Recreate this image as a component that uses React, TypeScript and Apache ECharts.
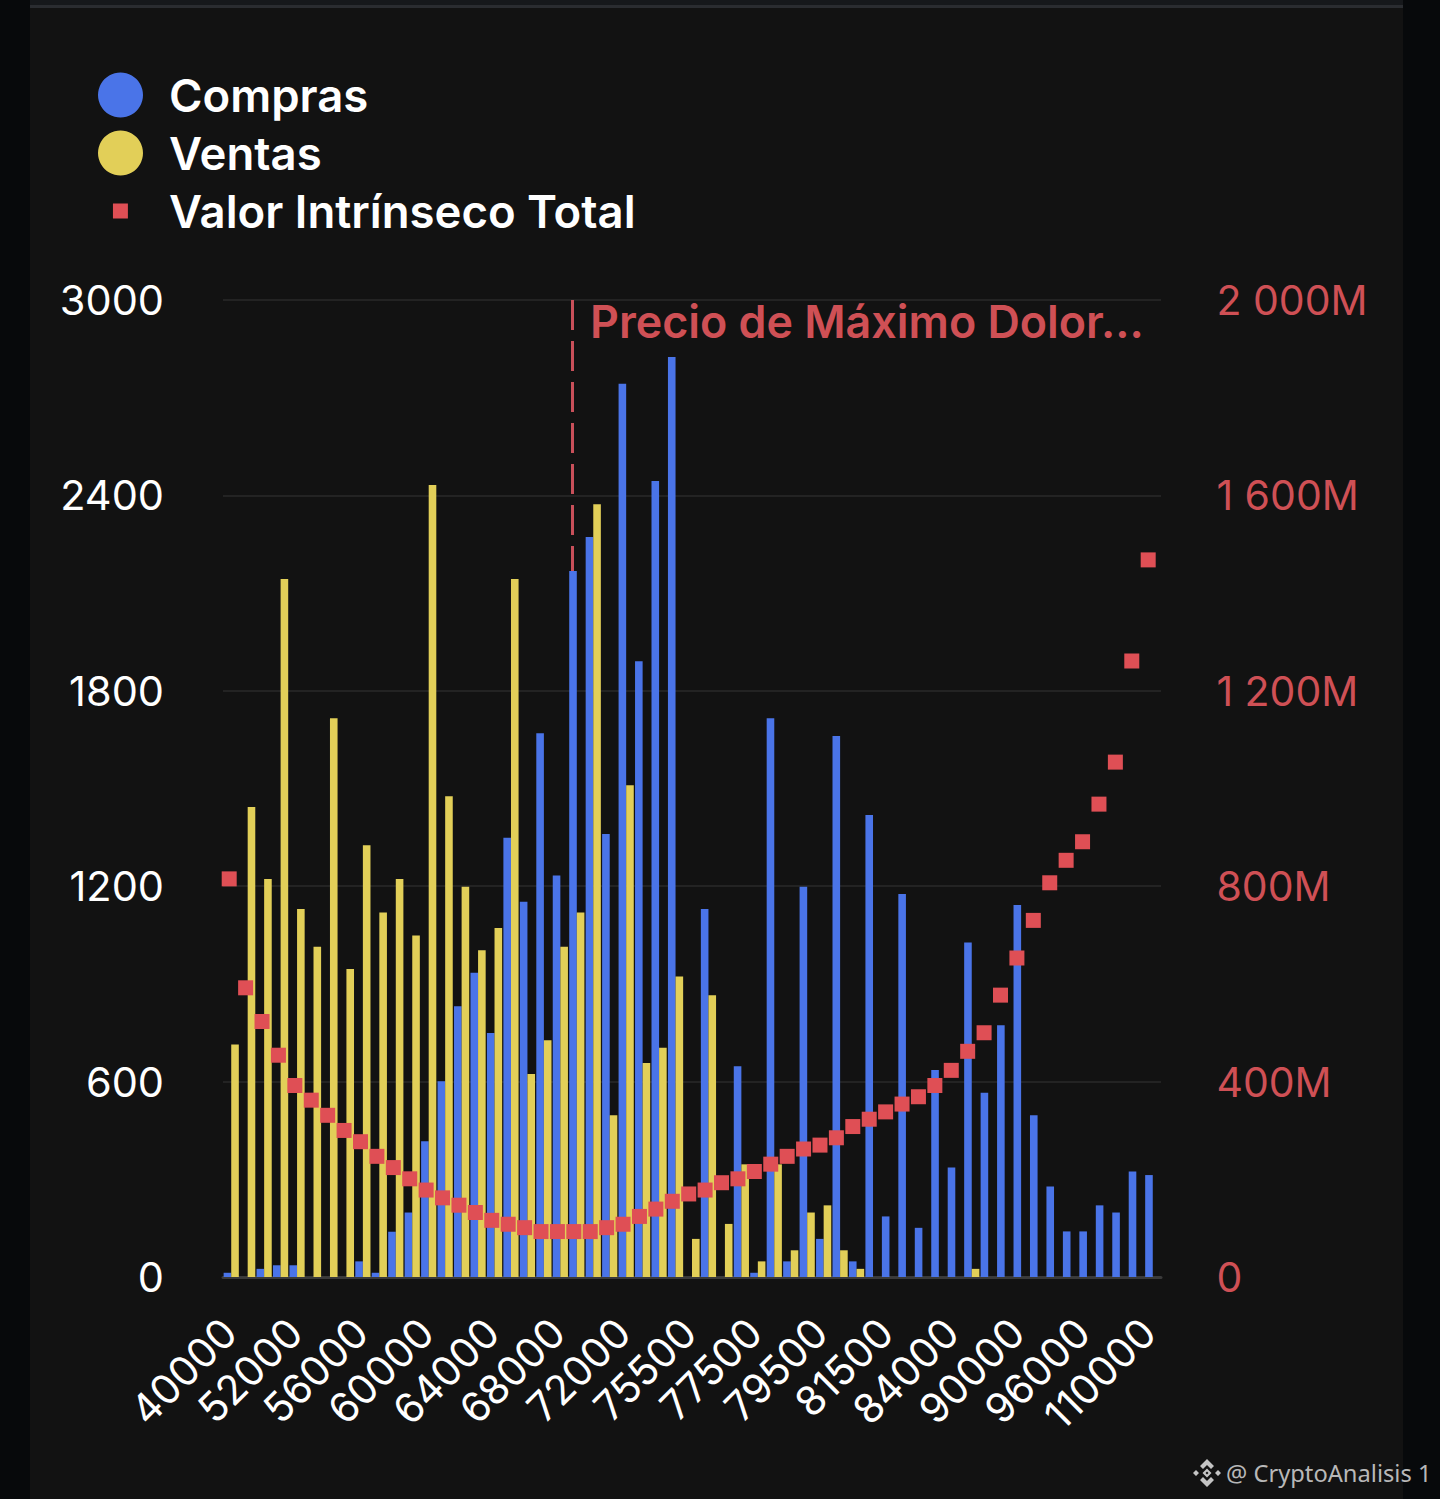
import { useEffect, useRef } from 'react';
import * as echarts from 'echarts';

const strikes = [
  '40000', '45000', '48000', '50000', '52000', '53000', '54000', '55000', '56000', '57000',
  '58000', '59000', '60000', '61000', '62000', '63000', '64000', '65000', '66000', '67000',
  '68000', '69000', '70000', '71000', '72000', '73000', '74000', '75000', '75500', '76000',
  '76500', '77000', '77500', '78000', '78500', '79000', '79500', '80000', '80500', '81000',
  '81500', '82000', '82500', '83000', '84000', '85000', '86000', '88000', '90000', '91000',
  '92000', '94000', '96000', '98000', '100000', '105000', '110000',
];

const compras = [
  13, 0, 25, 36, 36, 0, 0, 0, 48, 13,
  139, 198, 417, 601, 831, 934, 749, 1349, 1152, 1670,
  1233, 2168, 2272, 1360, 2743, 1891, 2444, 2825, 0, 1130,
  0, 647, 13, 1716, 48, 1198, 117, 1661, 48, 1419,
  186, 1176, 151, 636, 336, 1027, 566, 773, 1142, 497,
  278, 140, 140, 220, 198, 324, 313,
];

const ventas = [
  714, 1443, 1222, 2143, 1130, 1014, 1716, 946, 1326, 1119,
  1222, 1049, 2432, 1476, 1198, 1003, 1072, 2143, 623, 727,
  1014, 1119, 2373, 497, 1510, 657, 704, 923, 117, 865,
  163, 346, 48, 346, 82, 198, 220, 82, 25, 0,
  0, 0, 0, 0, 0, 25, 0, 0, 0, 0,
  0, 0, 0, 0, 0, 0, 0,
];

// Valor intrinseco total, en millones
const valorIntrinseco = [
  815, 592, 523, 454, 392, 362, 331, 300, 277, 247,
  224, 201, 178, 162, 147, 132, 116, 108, 101, 93,
  93, 93, 93, 101, 108, 124, 139, 155, 170, 178,
  193, 201, 216, 231, 247, 262, 270, 285, 308, 323,
  338, 354, 369, 392, 423, 462, 500, 577, 653, 730,
  807, 853, 891, 968, 1054, 1261, 1468,
];

// position of the max pain line, counted in category bands from the left edge
const maxPainBand = 21.2;

const BLUE = '#4a74e8';
const YELLOW = '#e2cf58';
const RED = '#df4f55';
const LABEL_RED = '#cf5055';
const FONT = 'Inter';

const LOGO =
  'M14 0L21 7L18 10L14 6L10 10L7 7Z M14 28L21 21L18 18L14 22L10 18L7 21Z ' +
  'M0 14L3 11L6 14L3 17Z M28 14L25 11L22 14L25 17Z ' +
  'M14 9.5L18.5 14L14 18.5L9.5 14Z M14 12.5L12.5 14L14 15.5L15.5 14Z';

echarts.graphic.registerShape('binanceLogo', echarts.graphic.extendPath(LOGO, {}));

const formatMillions = (v: number) => {
  if (v === 0) return '0';
  if (v >= 1000) return `${Math.floor(v / 1000)} ${String(v % 1000).padStart(3, '0')}M`;
  return `${v}M`;
};

export default function App() {
  const chartRef = useRef<HTMLDivElement>(null);

  useEffect(() => {
    if (!chartRef.current) return;
    const chart = echarts.init(chartRef.current, undefined, { renderer: 'svg' });

    chart.setOption({
      animation: false,
      backgroundColor: '#07090b',
      textStyle: { fontFamily: FONT },
      // the square markers and the strike labels sit on a slightly narrower band than the bars
      grid: [
        { left: 223, top: 300, width: 938, height: 977 },
        { left: 221, top: 300, width: 935.4, height: 977 },
      ],
      legend: {
        left: 93,
        top: 67,
        orient: 'vertical',
        itemWidth: 45,
        itemHeight: 45,
        itemGap: 12,
        selectedMode: false,
        textStyle: {
          color: '#ffffff',
          fontFamily: FONT,
          fontSize: 45.5,
          fontWeight: 600,
          padding: [12, 0, 0, 21],
        },
        data: [
          { name: 'Compras', icon: 'circle' },
          { name: 'Ventas', icon: 'circle' },
          {
            name: 'Valor Intrínseco Total',
            icon: 'path://M0 0h.01v.01zM3 3h.01v.01zM1 1h1v1h-1z',
          },
        ],
      },
      xAxis: [
        {
          type: 'category',
          gridIndex: 0,
          data: strikes,
          axisTick: { show: false },
          axisLine: { lineStyle: { color: '#3a3a3a', width: 3 } },
          axisLabel: { show: false },
        },
        { type: 'value', gridIndex: 0, show: false, min: 0, max: strikes.length },
        {
          type: 'category',
          gridIndex: 1,
          data: strikes,
          axisLine: { show: false },
          axisTick: { show: false },
          axisLabel: {
            interval: 3,
            rotate: 45,
            margin: 48,
            color: '#ffffff',
            fontFamily: FONT,
            fontSize: 41,
          },
        },
      ],
      yAxis: [
        {
          type: 'value',
          gridIndex: 0,
          min: 0,
          max: 3000,
          interval: 600,
          axisLine: { show: false },
          axisTick: { show: false },
          splitLine: { lineStyle: { color: '#232323', width: 2 } },
          axisLabel: {
            margin: 59,
            color: '#ffffff',
            fontFamily: FONT,
            fontSize: 41.5,
            padding: [2, 0, 0, 0],
            formatter: (v: number) => String(v),
          },
        },
        {
          type: 'value',
          gridIndex: 1,
          position: 'right',
          min: 0,
          max: 2000,
          interval: 400,
          axisLine: { show: false },
          axisTick: { show: false },
          splitLine: { show: false },
          axisLabel: {
            margin: 60,
            color: LABEL_RED,
            fontFamily: FONT,
            fontSize: 41,
            padding: [2, 0, 0, 0],
            formatter: formatMillions,
          },
        },
      ],
      series: [
        {
          name: 'maxPain',
          type: 'line',
          xAxisIndex: 1,
          yAxisIndex: 0,
          data: [],
          z: 1,
          markLine: {
            silent: true,
            z: 1,
            symbol: 'none',
            label: { show: false },
            lineStyle: { color: '#c9505a', width: 3, type: [30, 11] },
            data: [[{ xAxis: maxPainBand, yAxis: 3000 }, { xAxis: maxPainBand, yAxis: 0 }]],
          },
        },
        {
          name: 'Compras',
          type: 'bar',
          xAxisIndex: 0,
          yAxisIndex: 0,
          data: compras,
          barWidth: 7.6,
          barGap: '0%',
          z: 2,
          itemStyle: { color: BLUE },
        },
        {
          name: 'Ventas',
          type: 'bar',
          xAxisIndex: 0,
          yAxisIndex: 0,
          data: ventas,
          barWidth: 7.6,
          z: 2,
          itemStyle: { color: YELLOW },
        },
        {
          name: 'Valor Intrínseco Total',
          type: 'scatter',
          xAxisIndex: 2,
          yAxisIndex: 1,
          data: valorIntrinseco,
          symbol: 'rect',
          symbolSize: 15,
          z: 3,
          itemStyle: { color: RED, opacity: 1 },
        },
      ],
      graphic: [
        { type: 'rect', z: -10, shape: { x: 30, y: 0, width: 1373, height: 1499 }, style: { fill: '#121212' } },
        { type: 'rect', z: -9, shape: { x: 30, y: 0, width: 1373, height: 5 }, style: { fill: '#16181b' } },
        { type: 'rect', z: -9, shape: { x: 30, y: 5, width: 1373, height: 3 }, style: { fill: '#2a2c30' } },
        {
          type: 'text',
          x: 590,
          y: 322,
          z: 10,
          style: {
            text: 'Precio de Máximo Dolor...',
            fill: LABEL_RED,
            font: `600 44.8px ${FONT}`,
            verticalAlign: 'middle',
          },
        },
        { type: 'binanceLogo', x: 1193, y: 1459, z: 10, style: { fill: '#c4c4c4' } },
        {
          type: 'text',
          x: 1226,
          y: 1473,
          z: 10,
          style: {
            text: '@ CryptoAnalisis 1',
            fill: '#b8b8b8',
            font: '23.7px "Noto Sans"',
            verticalAlign: 'middle',
          },
        },
      ],
    });

    return () => {
      chart.dispose();
    };
  }, []);

  return <div ref={chartRef} style={{ position: 'absolute', left: 0, top: 0, width: 1440, height: 1499 }} />;
}
